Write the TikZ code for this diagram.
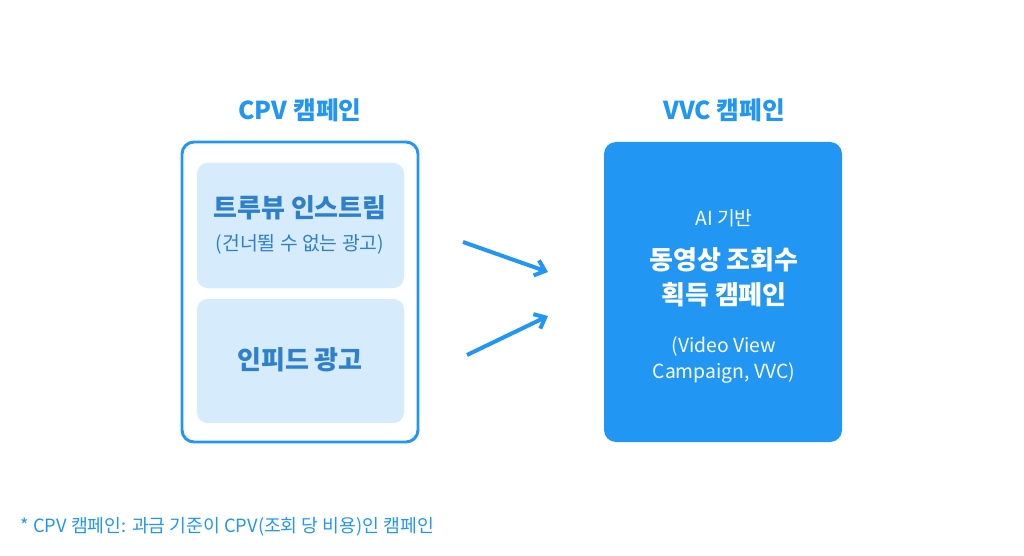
\documentclass[tikz,border=0pt]{standalone}
\usepackage{fontspec}
\setmainfont{Noto Sans CJK KR}
\definecolor{myblue}{RGB}{33,150,243}
\definecolor{mylight}{RGB}{214,235,251}
\definecolor{mytext}{RGB}{46,128,205}
\usetikzlibrary{positioning,arrows.meta}
\tikzset{
  title/.style={text=myblue,font=\fontsize{18.5}{22}\selectfont\bfseries},
  panel/.style={draw=myblue,line width=2.2pt,rounded corners=9pt,fill=white},
  cell/.style={fill=mylight,rounded corners=8pt},
  big/.style={font=\fontsize{19.5}{24}\selectfont\bfseries},
  small/.style={font=\fontsize{14.5}{19}\selectfont},
  arr/.style={-{Straight Barb[length=7pt,width=12pt]},draw=myblue,line width=3pt}
}
\begin{document}
\begin{tikzpicture}[x=0.75pt,y=-0.75pt]
\useasboundingbox (0,0) rectangle (1024,556);
% left campaign
\node[title] (lt) at (300,110) {CPV 캠페인};
\draw[panel] (182,142) rectangle (418,442);
\fill[cell] (197,163) rectangle (404,288);
\fill[cell] (197,299) rectangle (404,423);
\node[big,text=mytext] (c1) at (300,208) {트루뷰 인스트림};
\node[small,text=mytext] (c1s) at (300,244) {(건너뛸 수 없는 광고)};
\node[big,text=mytext] (c2) at (300,360) {인피드 광고};
% right campaign
\node[title] (rt) at (724,110) {VVC 캠페인};
\fill[myblue,rounded corners=9pt] (604,142) rectangle (842,442);
\node[small,text=white] (r1) at (724,218) {AI 기반};
\node[big,text=white,align=center] (r2) at (724,277) {동영상 조회수\\[2pt]획득 캠페인};
\node[small,text=white,align=center] (r3) at (724,360) {(Video View\\Campaign, VVC)};
% arrows
\coordinate (a1) at (463,242);
\coordinate (b1) at (548,272);
\coordinate (a2) at (467,355);
\coordinate (b2) at (548,316);
\draw[arr] (a1) -- (b1);
\draw[arr] (a2) -- (b2);
% note
\node[anchor=west,text=myblue,font=\fontsize{13.7}{16}\selectfont] (note) at (16,527) {* CPV 캠페인: 과금 기준이 CPV(조회 당 비용)인 캠페인};
\end{tikzpicture}
\end{document}
